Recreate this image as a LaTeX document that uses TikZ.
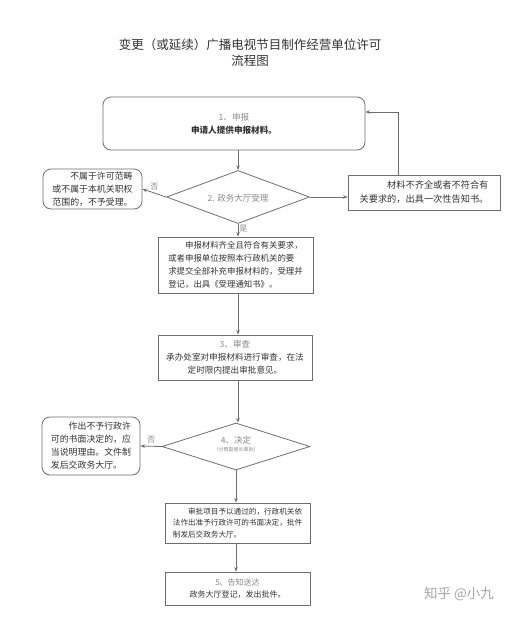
\documentclass[tikz,border=0pt]{standalone}
\usepackage{fontspec}
\setmainfont{Noto Sans CJK SC}
\usetikzlibrary{shapes.geometric,arrows.meta}
\definecolor{linec}{HTML}{6E6E6E}
\definecolor{txtc}{HTML}{333333}
\definecolor{headc}{HTML}{8A8A8A}
\tikzset{
  box/.style={draw=linec,line width=0.8pt,inner sep=0pt,text=txtc,font=\fontsize{8.6}{13}\selectfont,align=center},
  rbox/.style={box,rounded corners=8pt},
  dia/.style={draw=linec,line width=0.8pt,diamond,inner sep=0pt},
  conn/.style={draw=linec,line width=0.8pt,-{Stealth[length=4.5pt,width=3.5pt]}},
  lab/.style={text=headc,font=\fontsize{8}{9}\selectfont,inner sep=0pt},
  head/.style={text=headc}
}
\begin{document}
\begin{tikzpicture}[x=1pt,y=-1pt]
\useasboundingbox[fill=white] (0,0) rectangle (514,619);
% title
\node[text=txtc,font=\fontsize{12.5}{16}\selectfont,align=center] (title) at (250,53) {变更（或延续）广播电视节目制作经营单位许可\\流程图};
% step 1
\node[rbox,minimum width=262pt,minimum height=53pt] (b1) at (234,123.5) {{\color{headc}1、申报}\\\textbf{申请人提供申报材料。}};
% diamond 2
\node[dia,minimum width=143pt,minimum height=53pt] (d2) at (238,197) {};
\node[text=headc,font=\fontsize{8.5}{10}\selectfont] (d2t) at (238,198) {2. 政务大厅受理};
% left box 1
\node[rbox,minimum width=99pt,minimum height=40pt,align=left,font=\fontsize{8.9}{13}\selectfont] (l1) at (92.5,189) {\hspace*{2em}不属于许可范畴\\或不属于本机关职权\\范围的，不予受理。};
% right box
\node[box,minimum width=152pt,minimum height=35pt,align=left,font=\fontsize{9.2}{14}\selectfont] (r1) at (424,192.5) {\hspace*{3em}材料不齐全或者不符合有\\关要求的，出具一次性告知书。};
% accept box
\node[box,minimum width=155pt,minimum height=56pt,align=left,font=\fontsize{8.4}{13}\selectfont] (b2) at (235.5,265) {\hspace*{2em}申报材料齐全且符合有关要求，\\或者申报单位按照本行政机关的要\\求提交全部补充申报材料的，受理并\\登记，出具《受理通知书》。};
% step 3
\node[box,minimum width=154pt,minimum height=45pt] (b3) at (235,357.5) {{\color{headc}3、审查}\\承办处室对申报材料进行审查，在法\\定时限内提出审批意见。};
% diamond 4
\node[dia,minimum width=148pt,minimum height=47pt] (d4) at (236,446.5) {};
\node[text=headc,align=center,font=\fontsize{8.5}{10}\selectfont] (d4t) at (236,444) {4、决定\\[-2pt]{\fontsize{5}{6}\selectfont（分管副局长审批）}};
% left box 2
\node[rbox,minimum width=98pt,minimum height=58pt,align=left,font=\fontsize{8.9}{13}\selectfont] (l2) at (91,446) {\hspace*{2em}作出不予行政许\\可的书面决定的，应\\当说明理由。文件制\\发后交政务大厅。};
% approve box
\node[box,minimum width=145pt,minimum height=40pt,align=left,font=\fontsize{7.6}{11.5}\selectfont] (b4) at (237.5,523) {\hspace*{2em}审批项目予以通过的，行政机关依\\法作出准予行政许可的书面决定，批件\\制发后交政务大厅。};
% step 5
\node[box,minimum width=145pt,minimum height=33pt,font=\fontsize{8}{12}\selectfont] (b5) at (237.5,588.5) {{\color{headc}5、告知送达}\\政务大厅登记，发出批件。};
% watermark
\node[text=gray!70,font=\fontsize{13.5}{15}\selectfont] (wm) at (459,594) {知乎 @小九};
% connectors
\draw[conn] (b1.south -| d2.north) -- (d2.north);
\draw[conn] (d2.west) -- (l1.east) node[lab,midway,above=2pt] (no1) {否};
\draw[conn] (d2.east) -- (d2.east -| r1.west);
\coordinate (fb) at (398,112);
\draw[conn] (r1.north -| fb) -- (fb) -- (fb -| b1.east);
\draw[conn] (d2.south) -- (d2.south |- b2.north) node[lab,pos=0.35,right=1pt] (yes1) {是};
\draw[conn] (b2.south -| d2.south) -- (b3.north -| d2.south);
\draw[conn] (b3.south -| d2.south) -- (d4.north -| d2.south);
\draw[conn] (d4.west) -- (l2.east) node[lab,midway,above=3pt] (no2) {否};
\draw[conn] (d4.south) -- (d4.south |- b4.north);
\draw[conn] (b4.south -| d4.south) -- (b5.north -| d4.south);
\end{tikzpicture}
\end{document}
